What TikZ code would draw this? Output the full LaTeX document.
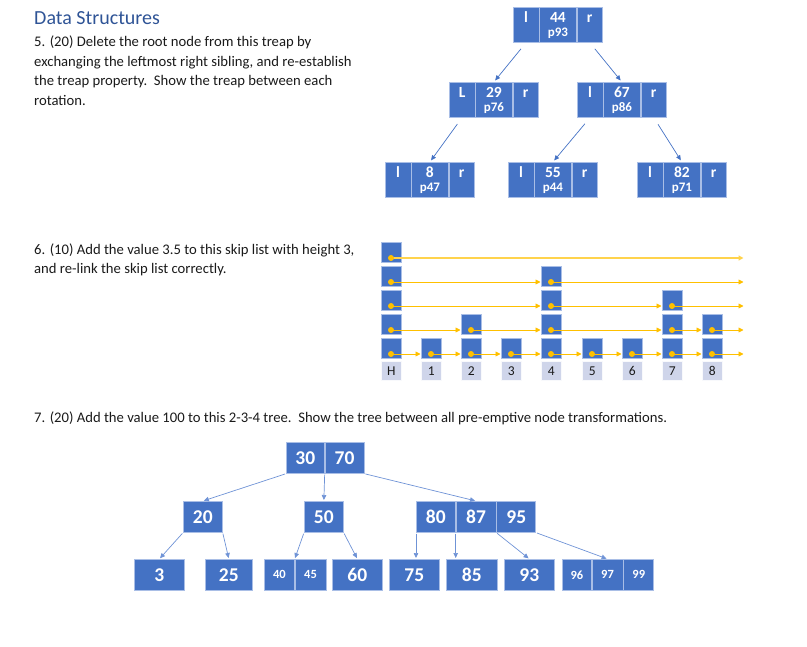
\documentclass[tikz,border=0pt]{standalone}
\usepackage{fontspec}
\setmainfont{Carlito}
\usetikzlibrary{arrows.meta}
\definecolor{nblue}{HTML}{4472C4}
\definecolor{hblue}{HTML}{2F5496}
\definecolor{gold}{HTML}{FFC000}
\definecolor{lav}{HTML}{CFD5EA}
\definecolor{lborder}{HTML}{A9BEE6}
\definecolor{aline}{HTML}{6F93D6}
\definecolor{ink}{HTML}{1A1A1A}
\newcommand\mytreap[6]{%
  \node[tcell, minimum width=25.5pt] (#1l) at (#2,#3) {};
  \node[tcell, minimum width=37pt] (#1v) at (#1l.north east) {};
  \node[tcell, minimum width=25.5pt] (#1r) at (#1v.north east) {};
  \node[ttxt] (#1lt) at ([yshift=-15.5pt]#1l.north) {#4};
  \node[ttxt] (#1vt) at ([yshift=-16pt]#1v.north) {#5};
  \node[ttxt, font=\fontsize{13}{15}\selectfont\bfseries] (#1pt) at ([yshift=-29.5pt]#1v.north) {#6};
  \node[ttxt] (#1rt) at ([yshift=-15.5pt]#1r.north) {r};
}
\begin{document}
\begin{tikzpicture}[x=1pt,y=-1pt,
  body/.style={font=\fontsize{14.67}{19.5}\selectfont, text=ink, inner sep=0pt, anchor=base west},
  title/.style={font=\fontsize{20}{24}\selectfont, text=hblue, inner sep=0pt, anchor=base west},
  tcell/.style={draw=lborder, fill=nblue, line width=0.6pt, minimum height=35pt, inner sep=0pt, anchor=north west},
  ttxt/.style={text=white, font=\fontsize{15.5}{17}\selectfont\bfseries, inner sep=0pt, anchor=base},
  tarr/.style={draw=nblue, line width=0.7pt, -{Triangle[length=5pt,width=4.5pt]}, shorten <=8pt, shorten >=2pt},
  sbox/.style={draw=lborder, fill=nblue, line width=0.7pt, minimum width=20pt, minimum height=20pt, inner sep=0pt, anchor=north west},
  lbox/.style={draw=white!85!lav, fill=lav, line width=0.7pt, minimum width=20pt, minimum height=19pt, inner sep=0pt, anchor=north west, text=ink, font=\fontsize{13.5}{15}\selectfont},
  sdot/.style={circle, fill=gold, inner sep=0pt, minimum size=6pt},
  sarr/.style={draw=gold, line width=0.9pt, -{Triangle[length=5pt,width=5pt]}, shorten >=0.5pt},
  bcell/.style={draw=lborder, fill=nblue, line width=0.7pt, minimum height=31pt, inner sep=0pt, anchor=north west, text=white, font=\fontsize{19.5}{22}\selectfont\bfseries},
  bsmall/.style={bcell, font=\fontsize{12.5}{14}\selectfont\bfseries},
  barr/.style={draw=aline, line width=0.7pt, -{Triangle[length=5pt,width=4.5pt]}, shorten <=1pt, shorten >=1pt}
]
\useasboundingbox (0,0) rectangle (807,647);

% ---------- texts ----------
\node[title] (ttl) at (34,25) {Data Structures};
\node[body] (q5a) at (34,47) {5. (20) Delete the root node from this treap by};
\node[body] (q5b) at (34,66.5) {exchanging the leftmost right sibling, and re-establish};
\node[body] (q5c) at (34,86) {the treap property.\ \ Show the treap between each};
\node[body] (q5d) at (34,105.5) {rotation.};
\node[body] (q6a) at (34,254.5) {6. (10) Add the value 3.5 to this skip list with height 3,};
\node[body] (q6b) at (34,274) {and re-link the skip list correctly.};
\node[body] (q7a) at (34,423) {7. (20) Add the value 100 to this 2-3-4 tree.\ \ Show the tree between all pre-emptive node transformations.};

% ---------- treap ----------
\mytreap{root}{513}{7}{l}{44}{p93}
\mytreap{na}{449}{82}{L}{29}{p76}
\mytreap{nb}{577}{82}{l}{67}{p86}
\mytreap{nc}{385}{162}{l}{8}{p47}
\mytreap{nd}{508}{162}{l}{55}{p44}
\mytreap{ne}{637}{162}{l}{82}{p71}
\draw[tarr] (rootl.south) -- (nav.north);
\draw[tarr] (rootr.south) -- (nbv.north);
\draw[tarr] (nal.south) -- (ncv.north);
\draw[tarr] (nbl.south) -- (ndv.north);
\draw[tarr] (nbr.south) -- (nev.north);

% ---------- skip list ----------
\foreach \col/\xx/\hh in {H/381/5,1/421/1,2/461/2,3/501/1,4/541/4,5/582/1,6/622/1,7/662/3,8/702/2}{
  \node[lbox] (lab\col) at (\xx,361) {\col};
  \foreach \kk in {1,...,\hh}{
    \node[sbox] (b\col L\kk) at (\xx,{338-24*(\kk-1)}) {};
    \coordinate (d\col L\kk) at ({\xx+10},{338-24*(\kk-1)+16});
  }
}
\coordinate (send) at (744,0);
\foreach \pp/\qq in {H/1,1/2,2/3,3/4,4/5,5/6,6/7,7/8}{
  \draw[sarr] (d\pp L1) -- (d\pp L1 -| b\qq L1.west);
}
\draw[sarr] (d8L1) -- (d8L1 -| send);
\foreach \pp/\qq in {H/2,2/4,4/7,7/8}{
  \draw[sarr] (d\pp L2) -- (d\pp L2 -| b\qq L2.west);
}
\draw[sarr] (d8L2) -- (d8L2 -| send);
\foreach \pp/\qq in {H/4,4/7}{
  \draw[sarr] (d\pp L3) -- (d\pp L3 -| b\qq L3.west);
}
\draw[sarr] (d7L3) -- (d7L3 -| send);
\draw[sarr] (dHL4) -- (dHL4 -| b4L4.west);
\draw[sarr] (d4L4) -- (d4L4 -| send);
\draw[sarr, line width=1.4pt, draw=gold!70!white] (dHL5) -- (dHL5 -| send);
\foreach \col/\hh in {H/5,1/1,2/2,3/1,4/4,5/1,6/1,7/3,8/2}{
  \foreach \kk in {1,...,\hh}{
    \node[sdot] (p\col L\kk) at (d\col L\kk) {};
  }
}

% ---------- 2-3-4 tree ----------
\node[bcell, minimum width=38pt] (c30) at (286,442) {30};
\node[bcell, minimum width=39pt] (c70) at (c30.north east) {70};
\node[bcell, minimum width=39pt] (n20) at (183,501) {20};
\node[bcell, minimum width=39pt] (n50) at (304,501) {50};
\node[bcell, minimum width=39pt] (c80) at (416,501) {80};
\node[bcell, minimum width=40pt] (c87) at (c80.north east) {87};
\node[bcell, minimum width=39pt] (c95) at (c87.north east) {95};
\node[bcell, minimum width=50pt] (n3) at (134,559) {3};
\node[bcell, minimum width=47pt] (n25) at (205,559) {25};
\node[bsmall, minimum width=30pt] (c40) at (264,559) {40};
\node[bsmall, minimum width=31pt] (c45) at (c40.north east) {45};
\node[bcell, minimum width=50pt] (n60) at (332,559) {60};
\node[bcell, minimum width=50pt] (n75) at (389,559) {75};
\node[bcell, minimum width=51pt] (n85) at (446,559) {85};
\node[bcell, minimum width=50pt] (n93) at (504,559) {93};
\node[bsmall, minimum width=29pt] (c96) at (562,559) {96};
\node[bsmall, minimum width=31pt] (c97) at (c96.north east) {97};
\node[bsmall, minimum width=30pt] (c99) at (c97.north east) {99};

\draw[barr] (c30.south west) -- (n20.north);
\draw[barr] (c30.south east) -- (n50.north);
\draw[barr] (c70.south east) -- (c87.north);
\draw[barr] (n20.south west) -- (n3.north);
\draw[barr] (n20.south east) -- (n25.north);
\draw[barr] (n50.south west) -- (c40.north east);
\draw[barr] (n50.south east) -- (n60.north);
\draw[barr] (c80.south west) -- (c80.south west |- n75.north);
\draw[barr] (c87.south west) -- (c87.south west |- n85.north);
\draw[barr] (c95.south west) -- (n93.north);
\draw[barr] (c95.south east) -- (c97.north);
\end{tikzpicture}
\end{document}
